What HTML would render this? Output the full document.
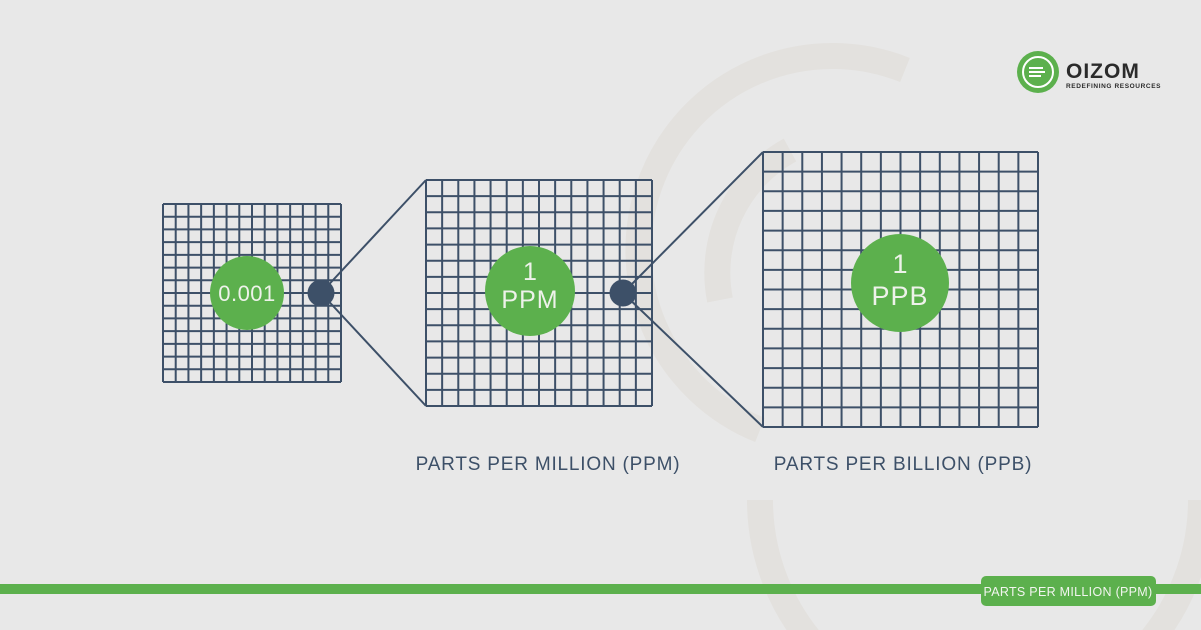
<!DOCTYPE html>
<html><head><meta charset="utf-8"><style>
html,body{margin:0;padding:0;background:#e8e8e8;width:1201px;height:630px;overflow:hidden;}
svg{display:block;}
text{font-family:"Liberation Sans",sans-serif;}
</style></head><body>
<svg id="s" width="1201" height="630" viewBox="0 0 1201 630" xmlns="http://www.w3.org/2000/svg">
<rect width="1201" height="630" fill="#e8e8e8"/>
<g fill="none" stroke="#e3e1de" stroke-width="26">
<path d="M905 70 A190 190 0 1 0 760 430"/>
<path d="M790 150 A140 140 0 0 0 720 300"/>
<path d="M1201 500 A220 220 0 0 1 760 500"/>
</g>
<g id="grids" stroke="#3d5068" stroke-width="2" fill="none"></g>
<g stroke="#3d5068" stroke-width="2">
<line x1="321" y1="293" x2="426" y2="180"/><line x1="321" y1="293" x2="426" y2="406"/>
<line x1="623" y1="293" x2="763" y2="152"/><line x1="623" y1="293" x2="763" y2="427"/>
</g>
<circle cx="321" cy="293" r="13.5" fill="#3d5068"/>
<circle cx="623" cy="293" r="13.5" fill="#3d5068"/>
<circle cx="247" cy="293" r="37" fill="#5cb04d"/>
<circle cx="530" cy="291" r="45" fill="#5cb04d"/>
<circle cx="900" cy="283" r="49" fill="#5cb04d"/>
<g fill="#eef2ea" text-anchor="middle">
<text x="247" y="301" font-size="22" letter-spacing="0.5">0.001</text>
<text x="530" y="280" font-size="25">1</text>
<text x="530" y="308" font-size="25" letter-spacing="1">PPM</text>
<text x="900" y="273" font-size="27">1</text>
<text x="900" y="305" font-size="27" letter-spacing="1">PPB</text>
</g>
<g fill="#3d5068" font-size="19" text-anchor="middle" letter-spacing="0.8">
<text x="548" y="470">PARTS PER MILLION (PPM)</text>
<text x="903" y="470">PARTS PER BILLION (PPB)</text>
</g>
<rect x="0" y="584" width="1201" height="10" fill="#5cb04d"/>
<rect x="981" y="576" width="175" height="30" rx="5" fill="#5cb04d"/>
<text x="1068" y="596" font-size="12.5" fill="#f2f5ef" text-anchor="middle" letter-spacing="0.3">PARTS PER MILLION (PPM)</text>
<circle cx="1038" cy="72" r="21" fill="#5cb04d"/>
<circle cx="1038" cy="72" r="15" fill="none" stroke="#fff" stroke-width="2"/>
<path d="M1029 68h14M1029 72h16M1029 76h12" stroke="#fff" stroke-width="2"/>
<text x="1066" y="78" font-size="21" font-weight="bold" fill="#2b2b2b" letter-spacing="1">OIZOM</text>
<text x="1066" y="88" font-size="6.5" font-weight="bold" fill="#2b2b2b" letter-spacing="0.6">REDEFINING RESOURCES</text>
</svg>
<script>
var g=document.getElementById('grids'),d='';
[[163,204,178],[426,180,226],[763,152,275]].forEach(function(a){
 var x=a[0],y=a[1],s=a[2],c=s/14;
 for(var i=0;i<=14;i++){var p=(i*c).toFixed(2);
  d+='M'+(x+ +p)+' '+y+'V'+(y+s)+'M'+x+' '+(y+ +p)+'H'+(x+s);}
});
var p=document.createElementNS('http://www.w3.org/2000/svg','path');p.setAttribute('d',d);g.appendChild(p);
</script>
</body></html>
